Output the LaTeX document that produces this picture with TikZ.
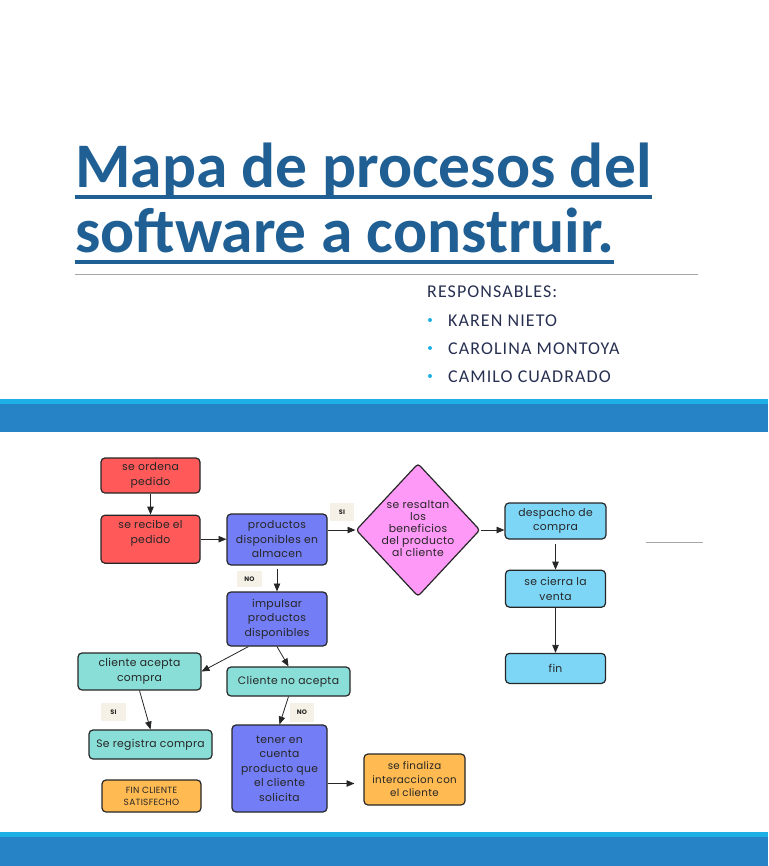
\documentclass[tikz,border=0pt]{standalone}
\usepackage{fontspec}
\setmainfont{Carlito}
\newfontfamily\flowfont{Poppins}[LetterSpace=3]
\usepackage{tikz}
\usetikzlibrary{shapes,shapes.geometric}
\usetikzlibrary{calc}
\usetikzlibrary{positioning}
\usetikzlibrary{arrows}
\definecolor{titazul}{RGB}{31,95,148}
\definecolor{respazul}{RGB}{40,48,82}
\definecolor{celeste}{RGB}{29,176,230}
\definecolor{barazul}{RGB}{38,131,198}
\definecolor{rojoc}{RGB}{255,89,89}
\definecolor{moradoc}{RGB}{115,125,245}
\definecolor{rosac}{RGB}{255,153,247}
\definecolor{cielo}{RGB}{126,214,247}
\definecolor{turquesa}{RGB}{137,222,216}
\definecolor{naranja}{RGB}{255,186,82}
\definecolor{beige}{RGB}{246,241,230}
\definecolor{borde}{RGB}{38,38,38}
\tikzset{paso/.style={rectangle,rounded corners=4pt,draw=borde,line width=1.2pt,
inner sep=1pt,align=center,text=borde,font=\flowfont\fontsize{10.8}{14.5}\selectfont},
rojo/.style={paso,fill=rojoc},
morado/.style={paso,fill=moradoc},
cielobox/.style={paso,fill=cielo},
turq/.style={paso,fill=turquesa},
naranjabox/.style={paso,fill=naranja},
decision/.style={diamond,draw=borde,line width=1.2pt,fill=rosac,inner sep=0pt,rounded corners=3pt},
etiqueta/.style={rectangle,fill=beige,inner sep=0pt,text=borde,
font=\flowfont\bfseries\fontsize{6.5}{6.5}\selectfont},
flecha/.style={->,line width=0.8pt,color=borde},
titulo/.style={inner sep=0pt,text=titazul,font=\bfseries\fontsize{63.5}{65}\selectfont},
subrayado/.style={line width=4pt,color=titazul},
respons/.style={inner sep=0pt,text=respazul,font=\addfontfeatures{LetterSpace=6}\fontsize{18}{20}\selectfont},
punto/.style={circle,fill=celeste,inner sep=0pt,minimum size=4pt},
>={triangle 45}}

\begin{document}
\begin{tikzpicture}[x=1pt,y=-1pt]
  \useasboundingbox (0,0) rectangle (768,866);

  % titulo
  \node (tit1) [titulo,anchor=base west] at (75,188) {Mapa de procesos del};
  \node (tit2) [titulo,anchor=base west] at (75,253) {software a construir.};
  \draw [subrayado] ([yshift=-9pt]tit1.base west) -- ([yshift=-9pt]tit1.base east);
  \draw [subrayado] ([yshift=-9pt]tit2.base west) -- ([yshift=-9pt]tit2.base east);
  \draw [gray!70,line width=0.8pt] (75,274) -- (698,274);

  % responsables
  \node (resp) [respons,anchor=base west] at (427,298) {RESPONSABLES:};
  \node (karen) [respons,anchor=base west] at (448,326) {KAREN NIETO};
  \node (carol) [respons,anchor=base west] at (448,354) {CAROLINA MONTOYA};
  \node (camilo) [respons,anchor=base west] at (448,382) {CAMILO CUADRADO};
  \node (bul1) [punto] at (430,320) {};
  \node (bul2) [punto] at (430,348) {};
  \node (bul3) [punto] at (430,376) {};

  % barras
  \fill [celeste] (0,399) rectangle (768,404);
  \fill [barazul] (0,404) rectangle (768,432);
  \fill [celeste] (0,832) rectangle (768,837);
  \fill [barazul] (0,837) rectangle (768,866);

  % diagrama
  \node (ordena) [rojo,minimum width=99pt,minimum height=35pt] at (150.5,475.5) {se ordena\\pedido};
  \node (recibe) [rojo,minimum width=99pt,minimum height=48pt,below=21pt of ordena] {se recibe el\\pedido\\\mbox{}};
  \node (prod) [morado,minimum width=100pt,minimum height=51pt] at (277,539.5) {productos\\disponibles en\\almacen};
  \node (impulsar) [morado,minimum width=100pt,minimum height=54pt] at (277,619) {impulsar\\productos\\disponibles};
  \node (dia) [decision,minimum width=124pt,minimum height=133pt] at (418,530) {};
  \node (diatxt) [inner sep=0pt,align=center,text=borde,font=\flowfont\fontsize{10.8}{12}\selectfont] at (418,529) {se resaltan\\los\\beneficios\\del producto\\al cliente};
  \node (desp) [cielobox,minimum width=101pt,minimum height=36pt] at (555.5,521) {despacho de\\compra};
  \node (cierre) [cielobox,minimum width=100pt,minimum height=37pt,below=30pt of desp] {se cierra la\\venta};
  \node (fin) [cielobox,minimum width=100pt,minimum height=30pt,below=45pt of cierre] {fin};
  \node (acepta) [turq,minimum width=123pt,minimum height=37pt] at (139.5,671.5) {cliente acepta\\compra};
  \node (noacepta) [turq,minimum width=123pt,minimum height=29pt] at (288.5,681.5) {Cliente no acepta};
  \node (registra) [turq,minimum width=123pt,minimum height=29pt] at (150.5,744.5) {Se registra compra};
  \node (tener) [morado,minimum width=95pt,minimum height=87pt] at (279.5,768.5) {tener en\\cuenta\\producto que\\el cliente\\solicita};
  \node (satisf) [naranjabox,minimum width=99pt,minimum height=32pt,font=\flowfont\fontsize{9}{12}\selectfont] at (151.5,796) {FIN CLIENTE\\SATISFECHO};
  \node (finaliza) [naranjabox,minimum width=101pt,minimum height=51pt,font=\flowfont\fontsize{10.3}{13.5}\selectfont] at (414.5,779.5) {se finaliza\\interaccion con\\el cliente};

  \node (si1) [etiqueta,minimum width=24pt,minimum height=18pt] at (342,512) {SI};
  \node (no1) [etiqueta,minimum width=25pt,minimum height=16pt] at (249.5,579) {NO};
  \node (si2) [etiqueta,minimum width=25pt,minimum height=18pt] at (113.5,712) {SI};
  \node (no2) [etiqueta,minimum width=24pt,minimum height=19pt] at (302,712.5) {NO};

  \draw [flecha] (ordena) -- (recibe);
  \draw [flecha] (recibe) -- (recibe -| prod.west);
  \draw [flecha] (prod.east |- dia) -- (dia.west);
  \draw [flecha] (dia.east) -- (dia.east -| desp.west);
  \draw [flecha,shorten <=4pt] (desp) -- (cierre);
  \draw [flecha] (cierre) -- (fin);
  \draw [flecha,shorten <=3pt] (prod) -- (impulsar);
  \draw [flecha] (impulsar.-136) -- (acepta.east);
  \draw [flecha] (impulsar.south) -- (noacepta.north);
  \draw [flecha] (acepta.south) -- (registra.north);
  \draw [flecha] (noacepta.south) -- (tener.north);
  \draw [flecha,shorten >=9pt] ([yshift=-4pt]tener.east |- finaliza) -- ([yshift=-4pt]finaliza.west);

  \draw [gray!70,line width=0.8pt] (646,542) -- (703,542);
\end{tikzpicture}
\end{document}
